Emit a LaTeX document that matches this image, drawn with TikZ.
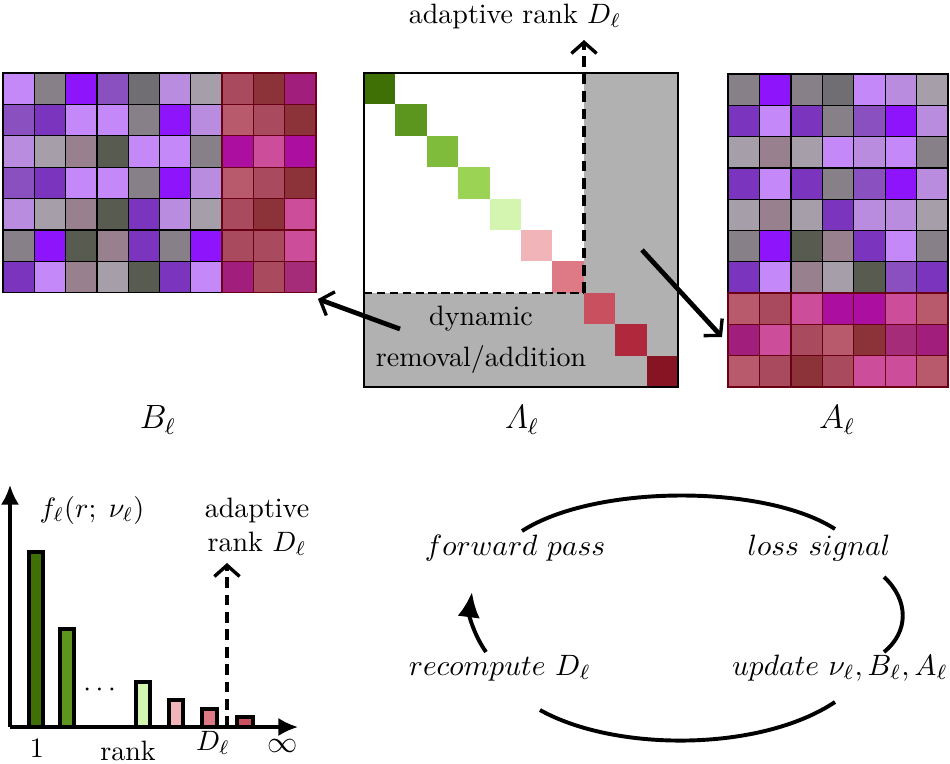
\documentclass[tikz,border=0pt]{standalone}
\usepackage{amsmath}
\usetikzlibrary{arrows.meta}
\definecolor{cL1}{RGB}{196,136,248}
\definecolor{cG1}{RGB}{135,128,136}
\definecolor{cV1}{RGB}{142,20,252}
\definecolor{cP1}{RGB}{139,80,192}
\definecolor{cG2}{RGB}{112,110,114}
\definecolor{cL2}{RGB}{185,140,224}
\definecolor{cG3}{RGB}{166,158,168}
\definecolor{cP2}{RGB}{123,52,190}
\definecolor{cM1}{RGB}{152,128,143}
\definecolor{cDG}{RGB}{88,92,80}
\definecolor{cR1}{RGB}{170,74,94}
\definecolor{cR2}{RGB}{139,51,57}
\definecolor{cR3}{RGB}{162,30,124}
\definecolor{cR4}{RGB}{184,90,108}
\definecolor{cR5}{RGB}{172,14,160}
\definecolor{cR6}{RGB}{204,78,154}
\definecolor{cR7}{RGB}{164,44,120}
\definecolor{cRB}{RGB}{105,0,20}
\definecolor{cD1}{RGB}{62,112,5}
\definecolor{cD2}{RGB}{93,150,30}
\definecolor{cD3}{RGB}{128,188,60}
\definecolor{cD4}{RGB}{155,212,85}
\definecolor{cD5}{RGB}{212,245,175}
\definecolor{cD6}{RGB}{240,180,185}
\definecolor{cD7}{RGB}{222,122,133}
\definecolor{cD8}{RGB}{200,80,95}
\definecolor{cD9}{RGB}{175,40,60}
\definecolor{cD10}{RGB}{135,20,35}
\definecolor{cGray}{RGB}{178,177,178}
\tikzset{
  cellP/.style={draw=black, line width=0.45pt},
  cellR/.style={draw=cRB, line width=0.45pt},
  chev/.style={-{Straight Barb[length=4pt,width=9pt,line width=1.2pt]}},
  matarrow/.style={line width=1.7pt, chev},
  cyc/.style={line width=1.4pt},
  bar/.style={draw=black, line width=1.2pt},
  axis/.style={line width=1.1pt, -{Latex[length=7pt,width=6.5pt]}},
  lbl/.style={inner sep=0pt, font=\large},
  txt/.style={inner sep=0pt},
  ctxt/.style={inner sep=0pt, scale=1.05}
}
\begin{document}
\begin{tikzpicture}[x=0.3568pt, y=-0.3568pt]
\useasboundingbox (0,0) rectangle (950,763);
% ---------- B matrix (7 x 10)
\foreach \rowlist [count=\r from 0] in {
 {cL1,cG1,cV1,cP1,cG2,cL2,cG3},
 {cP1,cP2,cL1,cL1,cG1,cV1,cL2},
 {cL2,cG3,cM1,cDG,cL1,cL1,cG1},
 {cP1,cP2,cL1,cL1,cG1,cV1,cL2},
 {cL2,cG3,cM1,cDG,cP2,cL2,cG3},
 {cG1,cV1,cDG,cM1,cP2,cG1,cV1},
 {cP2,cL1,cM1,cG3,cDG,cP2,cL1}}
 {\foreach \c [count=\k from 0] in \rowlist
   {\draw[cellP, fill=\c] ({3+31.3*\k},{73+31.4*\r}) rectangle ++(31.3,31.4);}}
\foreach \rowlist [count=\r from 0] in {
 {cR1,cR2,cR3},{cR4,cR1,cR2},{cR5,cR6,cR5},{cR4,cR1,cR2},
 {cR1,cR2,cR6},{cR1,cR1,cR6},{cR3,cR1,cR7}}
 {\foreach \c [count=\k from 7] in \rowlist
   {\draw[cellR, fill=\c] ({3+31.3*\k},{73+31.4*\r}) rectangle ++(31.3,31.4);}}
% ---------- A matrix (10 x 7)
\foreach \rowlist [count=\r from 0] in {
 {cG1,cV1,cG1,cG2,cL1,cL2,cG3},
 {cP2,cL1,cP2,cG1,cP1,cV1,cL2},
 {cG3,cM1,cG3,cL1,cL2,cL1,cG1},
 {cP2,cL1,cP2,cG1,cP1,cV1,cL2},
 {cG3,cM1,cG3,cP2,cL2,cL2,cG3},
 {cG1,cV1,cDG,cM1,cP2,cL1,cG1},
 {cP2,cL1,cM1,cG3,cDG,cP1,cP2}}
 {\foreach \c [count=\k from 0] in \rowlist
   {\draw[cellP, fill=\c] ({728+31.43*\k},{74+31.3*\r}) rectangle ++(31.43,31.3);}}
\foreach \rowlist [count=\r from 7] in {
 {cR4,cR1,cR6,cR5,cR5,cR6,cR4},
 {cR3,cR6,cR1,cR4,cR2,cR7,cR3},
 {cR4,cR1,cR2,cR1,cR6,cR6,cR4}}
 {\foreach \c [count=\k from 0] in \rowlist
   {\draw[cellR, fill=\c] ({728+31.43*\k},{74+31.3*\r}) rectangle ++(31.43,31.3);}}
% ---------- Lambda matrix
\fill[cGray] (584,73) rectangle (678,387);
\fill[cGray] (364,293) rectangle (584,387);
\foreach \c [count=\i from 0] in {cD1,cD2,cD3,cD4,cD5,cD6,cD7,cD8,cD9,cD10}
  {\fill[\c] ({364+31.4*\i},{73+31.4*\i}) rectangle ++(31.4,31.4);}
\draw[line width=0.5pt] (364,73) rectangle (678,387);
\draw[line width=0.7pt, dash pattern=on 3pt off 1.6pt] (364,293) -- (584,293);
\coordinate (dbot) at (584,293);
\coordinate (dtop) at (584,40);
\draw[line width=1.3pt, dash pattern=on 3.8pt off 2.4pt, chev] (dbot) -- (dtop);
\node[txt] (toptxt) at (515,16) {adaptive rank $D_\ell$};
\node[txt, align=center] (dyn) at (481,340) {dynamic\\[2.5pt]removal/addition};
% arrows to B and A
\coordinate (bs) at (400,329);
\coordinate (be) at (318,299);
\coordinate (as) at (642,250);
\coordinate (ae) at (722,337);
\draw[matarrow] (bs) -- (be);
\draw[matarrow] (as) -- (ae);
% labels
\node[lbl] (Bl) at (158,420) {$B_\ell$};
\node[lbl] (Ll) at (522,420) {$\varLambda_\ell$};
\node[lbl] (Al) at (837,420) {$A_\ell$};
% ---------- chart
\draw[bar, fill=cD1] (29,727) rectangle (43,552);
\draw[bar, fill=cD2] (60,727) rectangle (74,629);
\draw[bar, fill=cD5] (136,727) rectangle (150,682);
\draw[bar, fill=cD6] (169,727) rectangle (183,700);
\draw[bar, fill=cD7] (202,727) rectangle (217,709);
\draw[bar, fill=cD8] (237,727) rectangle (253,717);
\coordinate (org) at (10,727);
\coordinate (ytip) at (10,485);
\coordinate (xtip) at (298,727);
\draw[axis] (org) -- (ytip);
\draw[axis] (org) -- (xtip);
\node[txt] (dots) at (102,690) {$\cdots$};
\coordinate (dab) at (227,727);
\coordinate (dat) at (227,563);
\draw[line width=1.2pt, dash pattern=on 3.8pt off 2.4pt, chev] (dab) -- (dat);
\node[txt] (fl) at (92,510) {$f_\ell(r;\;\nu_\ell)$};
\node[txt, align=center] (adp) at (257,527) {adaptive\\rank $D_\ell$};
\node[txt] (one) at (37,748) {$1$};
\node[txt] (rk) at (128,751) {rank};
\node[txt] (dl) at (213,743) {$D_\ell$};
\node[txt, scale=1.08] (inf) at (283,746) {$\infty$};
% ---------- cycle
\node[ctxt] (fwd) at (515,548) {$forward\ pass$};
\node[ctxt] (loss) at (819,548) {$loss\ signal$};
\node[ctxt] (rec) at (500,668) {$recompute\ D_\ell$};
\node[ctxt] (upd) at (840,668) {$update\ \nu_\ell, B_\ell, A_\ell$};
\coordinate (t1) at (522,531);
\coordinate (t2) at (835,529);
\coordinate (r1) at (884,577);
\coordinate (r2) at (884,652);
\coordinate (b1) at (835,702);
\coordinate (b2) at (540,710);
\coordinate (l1) at (486,652);
\coordinate (l2) at (472,592);
\draw[cyc] (t1) .. controls (595,484) and (765,484) .. (t2);
\draw[cyc] (r1) .. controls (909,600) and (909,632) .. (r2);
\draw[cyc] (b1) .. controls (760,752) and (615,752) .. (b2);
\draw[cyc, -{Latex[length=9pt,width=8pt]}] (l1) .. controls (474,635) and (469,615) .. (l2);
\end{tikzpicture}
\end{document}
